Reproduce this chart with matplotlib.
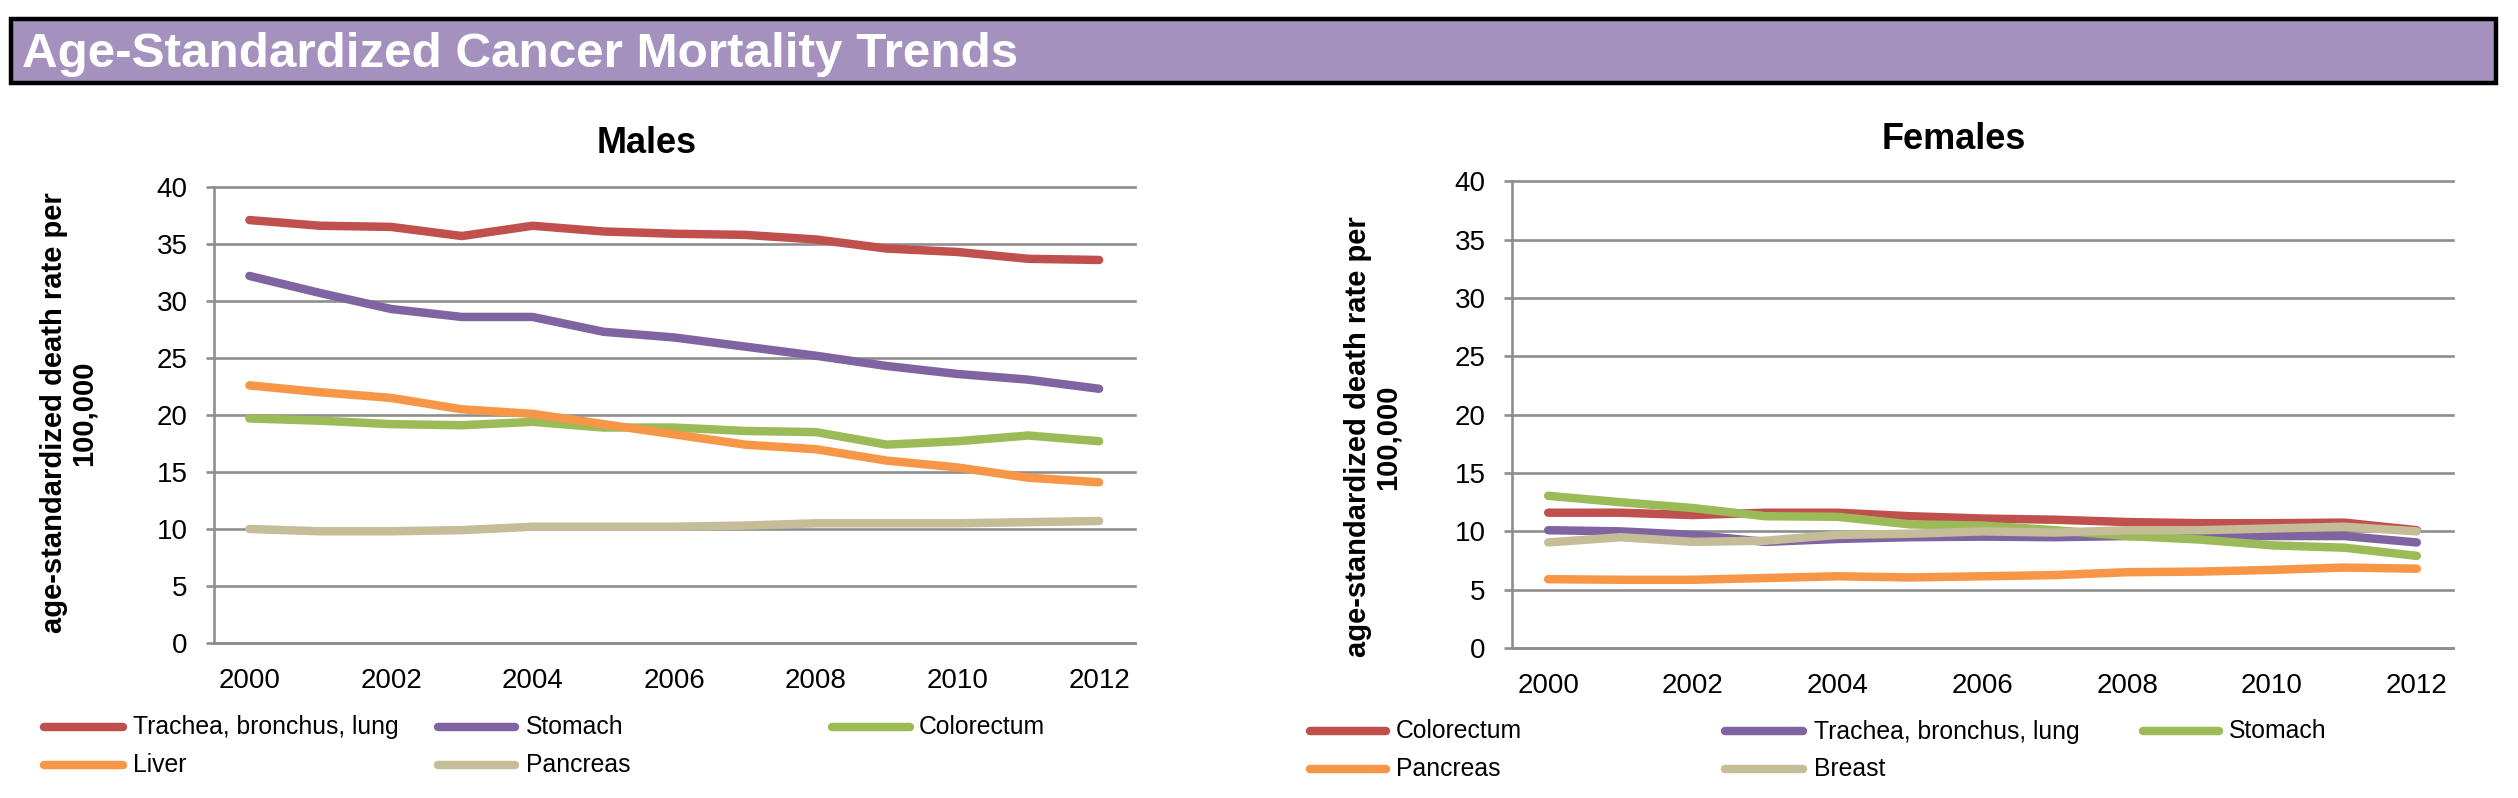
import matplotlib
matplotlib.use("Agg")
import matplotlib.pyplot as plt
from matplotlib.lines import Line2D
from matplotlib.patches import Rectangle

plt.rcParams['font.family'] = ['Liberation Sans', 'DejaVu Sans']

# ---------------- data ----------------
years = list(range(2000, 2013))

male_labels = ["Trachea, bronchus, lung", "Stomach", "Colorectum", "Liver", "Pancreas"]
male_trachea = [37.1, 36.6, 36.5, 35.7, 36.6, 36.1, 35.9, 35.8, 35.4, 34.6, 34.3, 33.7, 33.6]
male_stomach = [32.2, 30.7, 29.3, 28.6, 28.6, 27.3, 26.8, 26.0, 25.2, 24.3, 23.6, 23.1, 22.3]
male_colorectum = [19.7, 19.5, 19.2, 19.1, 19.4, 18.9, 18.9, 18.6, 18.5, 17.4, 17.7, 18.2, 17.7]
male_liver = [22.6, 22.0, 21.5, 20.5, 20.1, 19.2, 18.3, 17.4, 17.0, 16.0, 15.4, 14.5, 14.1]
male_pancreas = [10.0, 9.8, 9.8, 9.9, 10.2, 10.2, 10.2, 10.3, 10.5, 10.5, 10.5, 10.6, 10.7]

female_labels = ["Colorectum", "Trachea, bronchus, lung", "Stomach", "Pancreas", "Breast"]
female_colorectum = [11.6, 11.6, 11.4, 11.6, 11.6, 11.3, 11.1, 11.0, 10.8, 10.7, 10.7, 10.75, 10.1]
female_trachea = [10.1, 10.0, 9.7, 9.1, 9.35, 9.5, 9.55, 9.5, 9.6, 9.6, 9.6, 9.6, 9.05]
female_stomach = [13.05, 12.5, 12.0, 11.3, 11.25, 10.6, 10.5, 10.1, 9.6, 9.3, 8.8, 8.6, 7.9]
female_pancreas = [5.9, 5.85, 5.85, 6.0, 6.15, 6.05, 6.15, 6.25, 6.5, 6.55, 6.7, 6.9, 6.8]
female_breast = [9.05, 9.5, 9.1, 9.2, 9.7, 9.8, 10.0, 9.9, 10.1, 10.1, 10.25, 10.4, 10.0]

series_colors = ["#C0504D", "#8064A2", "#9BBB59", "#F79646", "#C4BD97"]
y_ticks = [0, 5, 10, 15, 20, 25, 30, 35, 40]
x_ticks = [2000, 2002, 2004, 2006, 2008, 2010, 2012]

main_title = "Age-Standardized Cancer Mortality Trends"
ylabel_text = "age-standardized death rate per\n100,000"

# ---------------- figure ----------------
W, H = 2518, 798
fig = plt.figure(figsize=(W / 100, H / 100), dpi=100)
fig.patch.set_facecolor("white")


def fx(px):
    return px / W


def fy(py):
    return 1 - py / H


GRID = "#8E8E8E"

# title bar
bar = Rectangle((fx(11), fy(83)), fx(2496) - fx(11), fy(19) - fy(83), transform=fig.transFigure,
                facecolor="#A491BE", edgecolor="black", linewidth=3.2, zorder=0)
fig.patches.append(bar)
fig.text(fx(22), fy(67), main_title, color="white", fontsize=35.6, fontweight="bold",
         ha="left", va="baseline")


def make_axes(rect_px, series, labels, title, title_x, title_base, ylab_x, ylab_y,
              leg_handle_x, leg_text_x, leg_rows_y, leg_rows_base):
    l, t, r, b = rect_px
    ax = fig.add_axes([fx(l), fy(b), fx(r) - fx(l), fy(t) - fy(b)])
    for vals, lab, col in zip(series, labels, series_colors):
        ax.plot(years, vals, color=col, linewidth=6.1, solid_capstyle="round",
                solid_joinstyle="round", label=lab, zorder=3)
    ax.set_xlim(1999.5, 2012.5)
    ax.set_ylim(0, 40)
    ax.set_yticks(y_ticks)
    ax.set_xticks(x_ticks)
    ax.set_xticklabels([str(v) for v in x_ticks])
    ax.grid(axis="y", color=GRID, linewidth=1.9, zorder=1)
    for gl in ax.get_ygridlines():
        gl.set_clip_on(False)
    ax.set_axisbelow(True)
    for s in ["top", "right"]:
        ax.spines[s].set_visible(False)
    for s in ["left", "bottom"]:
        ax.spines[s].set_color(GRID)
        ax.spines[s].set_linewidth(1.9)
    ax.tick_params(axis="y", length=5.8, width=1.9, color=GRID, pad=13.3, labelsize=20)
    ax.tick_params(axis="x", length=0, pad=18, labelsize=20)
    fig.text(fx(title_x), fy(title_base), title, fontsize=26, fontweight="bold",
             ha="center", va="baseline")
    fig.text(fx(ylab_x), fy(ylab_y), ylabel_text, fontsize=21, fontweight="bold",
             rotation=90, ha="center", va="center", multialignment="center", linespacing=1.1)
    # legend laid out row by row, three columns
    for i, (lab, col) in enumerate(zip(labels, series_colors)):
        row, c = divmod(i, 3)
        hx0, hx1 = leg_handle_x[c]
        yy = fy(leg_rows_y[row])
        fig.lines.append(Line2D([fx(hx0 + 4), fx(hx1 - 4)], [yy, yy], transform=fig.transFigure,
                                color=col, linewidth=6.1, solid_capstyle="round"))
        fig.text(fx(leg_text_x[c]), fy(leg_rows_base[row]), lab, fontsize=17.8,
                 ha="left", va="baseline")
    return ax


make_axes((214, 187, 1134.5, 643),
          [male_trachea, male_stomach, male_colorectum, male_liver, male_pancreas],
          male_labels, "Males", 646.5, 153, 69, 413,
          [(40, 127), (434, 519), (828, 914)], [133, 526, 919], [727, 765], [734, 772])

make_axes((1512, 181.5, 2453, 648),
          [female_colorectum, female_trachea, female_stomach, female_pancreas, female_breast],
          female_labels, "Females", 1954, 149, 1373, 437,
          [(1306, 1390), (1721, 1807), (2139, 2223)], [1396, 1814, 2229], [731, 769], [738.5, 776.5])

fig.savefig("out.png", dpi=100, facecolor="white")
